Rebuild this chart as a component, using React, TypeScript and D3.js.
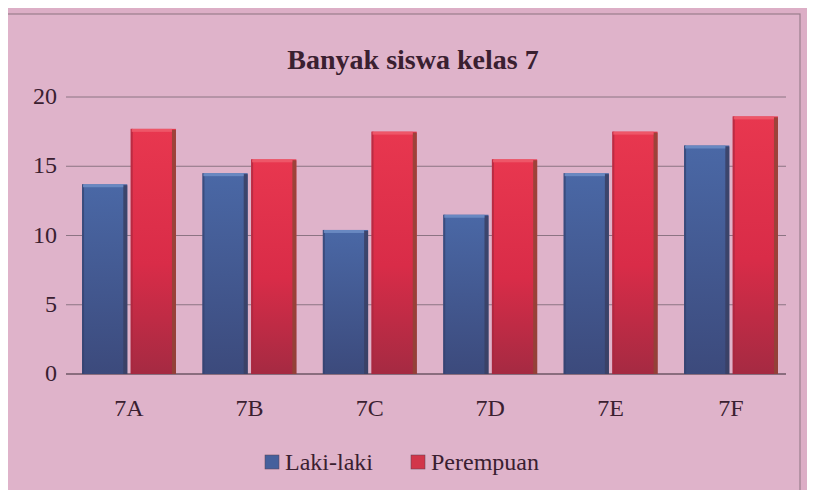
import { useEffect, useRef } from 'react';
import * as d3 from 'd3';

const categories = ['7A', '7B', '7C', '7D', '7E', '7F'];
const seriesNames = ['Laki-laki', 'Perempuan'];
const lakiLaki = [13.7, 14.5, 10.4, 11.5, 14.5, 16.5];
const perempuan = [17.7, 15.5, 17.5, 15.5, 17.5, 18.6];
const yTicks = [0, 5, 10, 15, 20];

const W = 815;
const H = 498;

export default function App() {
  const svgRef = useRef<SVGSVGElement>(null);

  useEffect(() => {
    const svg = d3.select(svgRef.current);
    svg.selectAll('*').remove();

    const defs = svg.append('defs');
    const blue = defs.append('linearGradient').attr('id', 'gBlue').attr('x1', 0).attr('y1', 0).attr('x2', 0).attr('y2', 1);
    blue.append('stop').attr('offset', '0%').attr('stop-color', '#4a68a6');
    blue.append('stop').attr('offset', '100%').attr('stop-color', '#3c4a7c');
    const red = defs.append('linearGradient').attr('id', 'gRed').attr('x1', 0).attr('y1', 0).attr('x2', 0).attr('y2', 1);
    red.append('stop').attr('offset', '0%').attr('stop-color', '#e8374f');
    red.append('stop').attr('offset', '55%').attr('stop-color', '#d92c48');
    red.append('stop').attr('offset', '100%').attr('stop-color', '#a52a42');

    // photo-ish background
    svg.append('rect').attr('width', W).attr('height', H).attr('fill', '#dcaec6');
    svg.append('rect')
      .attr('x', 6).attr('y', 14).attr('width', 794).attr('height', 520)
      .attr('fill', '#dfb3ca').attr('stroke', '#9a7d8c').attr('stroke-width', 1.2);

    const x = d3.scaleBand<string>().domain(categories).range([70, 790]).paddingInner(0.22).paddingOuter(0.1);
    const xs = d3.scaleBand<string>().domain(seriesNames).range([0, x.bandwidth()]).paddingInner(0.07);
    const y = d3.scaleLinear().domain([0, 20]).range([374, 97]);

    const textColor = '#3a2030';
    const font = 'Liberation Serif, Times New Roman, Times, serif';

    // title
    svg.append('text')
      .attr('x', 413).attr('y', 69)
      .attr('text-anchor', 'middle')
      .style('font-family', font).attr('font-weight', 'bold').attr('font-size', 28)
      .attr('fill', textColor)
      .text('Banyak siswa kelas 7');

    // gridlines + y labels
    const grid = svg.append('g');
    grid.selectAll('line').data(yTicks).enter().append('line')
      .attr('x1', 66).attr('x2', 786)
      .attr('y1', d => y(d)).attr('y2', d => y(d))
      .attr('stroke', d => d === 0 ? '#6e5664' : '#8c7483')
      .attr('stroke-width', d => d === 0 ? 1.4 : 1);
    grid.selectAll('text').data(yTicks).enter().append('text')
      .attr('x', 57).attr('y', d => y(d) + 7)
      .attr('text-anchor', 'end')
      .style('font-family', font).attr('font-size', 24)
      .attr('fill', textColor)
      .text(d => d);

    // bars
    const rows = categories.map((c, i) => ({ c, vals: [lakiLaki[i], perempuan[i]] }));
    const groups = svg.append('g').selectAll('g').data(rows).enter().append('g')
      .attr('transform', d => `translate(${x(d.c)},0)`);

    groups.each(function (d) {
      const g = d3.select(this);
      d.vals.forEach((v, si) => {
        const bx = xs(seriesNames[si]) as number;
        const bw = xs.bandwidth();
        const top = y(v);
        const h = y(0) - top;
        const isBlue = si === 0;
        g.append('rect')
          .attr('x', bx).attr('y', top).attr('width', bw).attr('height', h)
          .attr('fill', isBlue ? 'url(#gBlue)' : 'url(#gRed)');
        // right side shade
        g.append('rect')
          .attr('x', bx + bw - 4).attr('y', top + 1).attr('width', 4).attr('height', h - 1)
          .attr('fill', isBlue ? '#3a3f63' : '#8f4436').attr('opacity', 0.85);
        // left edge
        g.append('rect')
          .attr('x', bx).attr('y', top).attr('width', 2).attr('height', h)
          .attr('fill', isBlue ? '#34426e' : '#a8283f').attr('opacity', 0.7);
        // top cap
        g.append('rect')
          .attr('x', bx + 1).attr('y', top).attr('width', bw - 5).attr('height', 3)
          .attr('fill', isBlue ? '#6d8cc4' : '#ee5a6a').attr('opacity', 0.9);
      });
    });

    // x labels
    svg.append('g').selectAll('text').data(categories).enter().append('text')
      .attr('x', d => (x(d) as number) + x.bandwidth() / 2)
      .attr('y', 416)
      .attr('text-anchor', 'middle')
      .style('font-family', font).attr('font-size', 24)
      .attr('fill', textColor)
      .text(d => d);

    // legend
    const legend = svg.append('g');
    const legendItems = [
      { name: seriesNames[0], color: '#45609c', x: 265 },
      { name: seriesNames[1], color: '#d2364a', x: 411 },
    ];
    legendItems.forEach(it => {
      legend.append('rect')
        .attr('x', it.x).attr('y', 455).attr('width', 14).attr('height', 14)
        .attr('fill', it.color).attr('stroke', '#5a4050').attr('stroke-width', 0.5);
      legend.append('text')
        .attr('x', it.x + 20).attr('y', 470)
        .style('font-family', font).attr('font-size', 24)
        .attr('fill', textColor)
        .text(it.name);
    });
  }, []);

  return (
    <div style={{ margin: -8 }}>
      <svg ref={svgRef} width={W} height={H} style={{ display: 'block' }}></svg>
    </div>
  );
}
